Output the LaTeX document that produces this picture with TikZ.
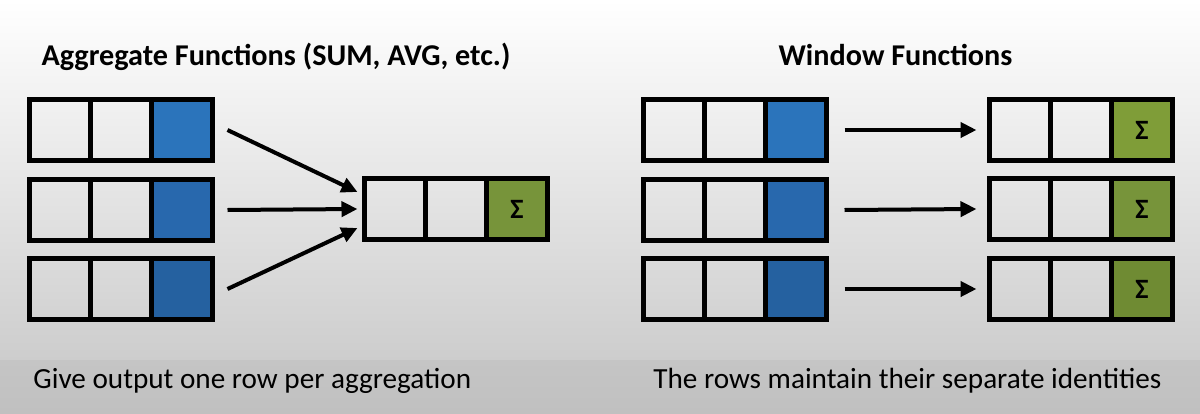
\documentclass[tikz,border=0pt]{standalone}
\usepackage{fontspec}
\setmainfont{Carlito}
\usetikzlibrary{arrows.meta,calc}
\definecolor{blueA}{HTML}{2B74BB}
\definecolor{blueB}{HTML}{2868AD}
\definecolor{blueC}{HTML}{2561A0}
\definecolor{greenA}{HTML}{7F9D38}
\definecolor{greenB}{HTML}{77943A}
\definecolor{greenC}{HTML}{6F8B33}
\definecolor{bgtop}{HTML}{FFFFFF}
\definecolor{bgmid}{HTML}{CDCDCD}
\definecolor{bandtop}{HTML}{C5C5C5}
\definecolor{bandbot}{HTML}{C0C0C0}
\newcommand\datarow[5]{%
  \node[cell] (#1a) at ({#2+2.5},{#3+2.5}) {};
  \node[cell] (#1b) at ({#2+63.5},{#3+2.5}) {};
  \node[cell,fill=#4] (#1c) at ({#2+124.5},{#3+2.5}) {#5};
}
\begin{document}
\begin{tikzpicture}[x=0.5pt,y=-0.5pt,
  cell/.style={draw=black,line width=2.5pt,minimum width=30.5pt,minimum height=30.5pt,
    inner sep=0pt,outer sep=0pt,anchor=north west,font=\bfseries\fontsize{14}{16}\selectfont},
  arr/.style={line width=2pt,-{Triangle[length=8pt,width=7.5pt]}},
  title/.style={font=\bfseries\fontsize{15.1}{17}\selectfont,inner sep=0pt,anchor=base},
  caption/.style={font=\fontsize{14.6}{16}\selectfont,inner sep=0pt,anchor=base west}]
\useasboundingbox (0,0) rectangle (1200,413);
\shade[top color=bgtop,bottom color=bgmid] (0,0) rectangle (1200,360);
\shade[top color=bandtop,bottom color=bandbot] (0,360) rectangle (1200,413);

\node[title] (t1) at (276,65) {Aggregate Functions (SUM, AVG, etc.)};
\node[title] (t2) at (895.5,65) {Window Functions};

% left input rows
\datarow{La}{27}{97}{blueA}{}
\datarow{Lb}{27}{177}{blueB}{}
\datarow{Lc}{27}{256}{blueC}{}
% aggregate output
\datarow{O}{362}{176}{greenB}{Σ}
% right input rows
\datarow{Ra}{641}{97}{blueA}{}
\datarow{Rb}{641}{177}{blueB}{}
\datarow{Rc}{641}{256}{blueC}{}
% right output rows
\datarow{Sa}{987}{97}{greenA}{Σ}
\datarow{Sb}{987}{176}{greenB}{Σ}
\datarow{Sc}{987}{256}{greenC}{Σ}

\draw[arr] ($(Lac.east)+(15,0)$) -- ($(Oa.west)+(-7,-17)$);
\draw[arr] ($(Lbc.east)+(15,0)$) -- ($(Oa.west)+(-7,0)$);
\draw[arr] ($(Lcc.east)+(15,0)$) -- ($(Oa.west)+(-7,19)$);

\draw[arr] ($(Rac.east)+(18,0)$) -- ($(Saa.west)+(-13,0)$);
\draw[arr] ($(Rbc.east)+(18,0)$) -- ($(Sba.west)+(-13,0)$);
\draw[arr] ($(Rcc.east)+(18,0)$) -- ($(Sca.west)+(-13,0)$);

\node[caption] (c1) at (33,388) {Give output one row per aggregation};
\node[caption] (c2) at (653,388) {The rows maintain their separate identities};
\end{tikzpicture}
\end{document}
